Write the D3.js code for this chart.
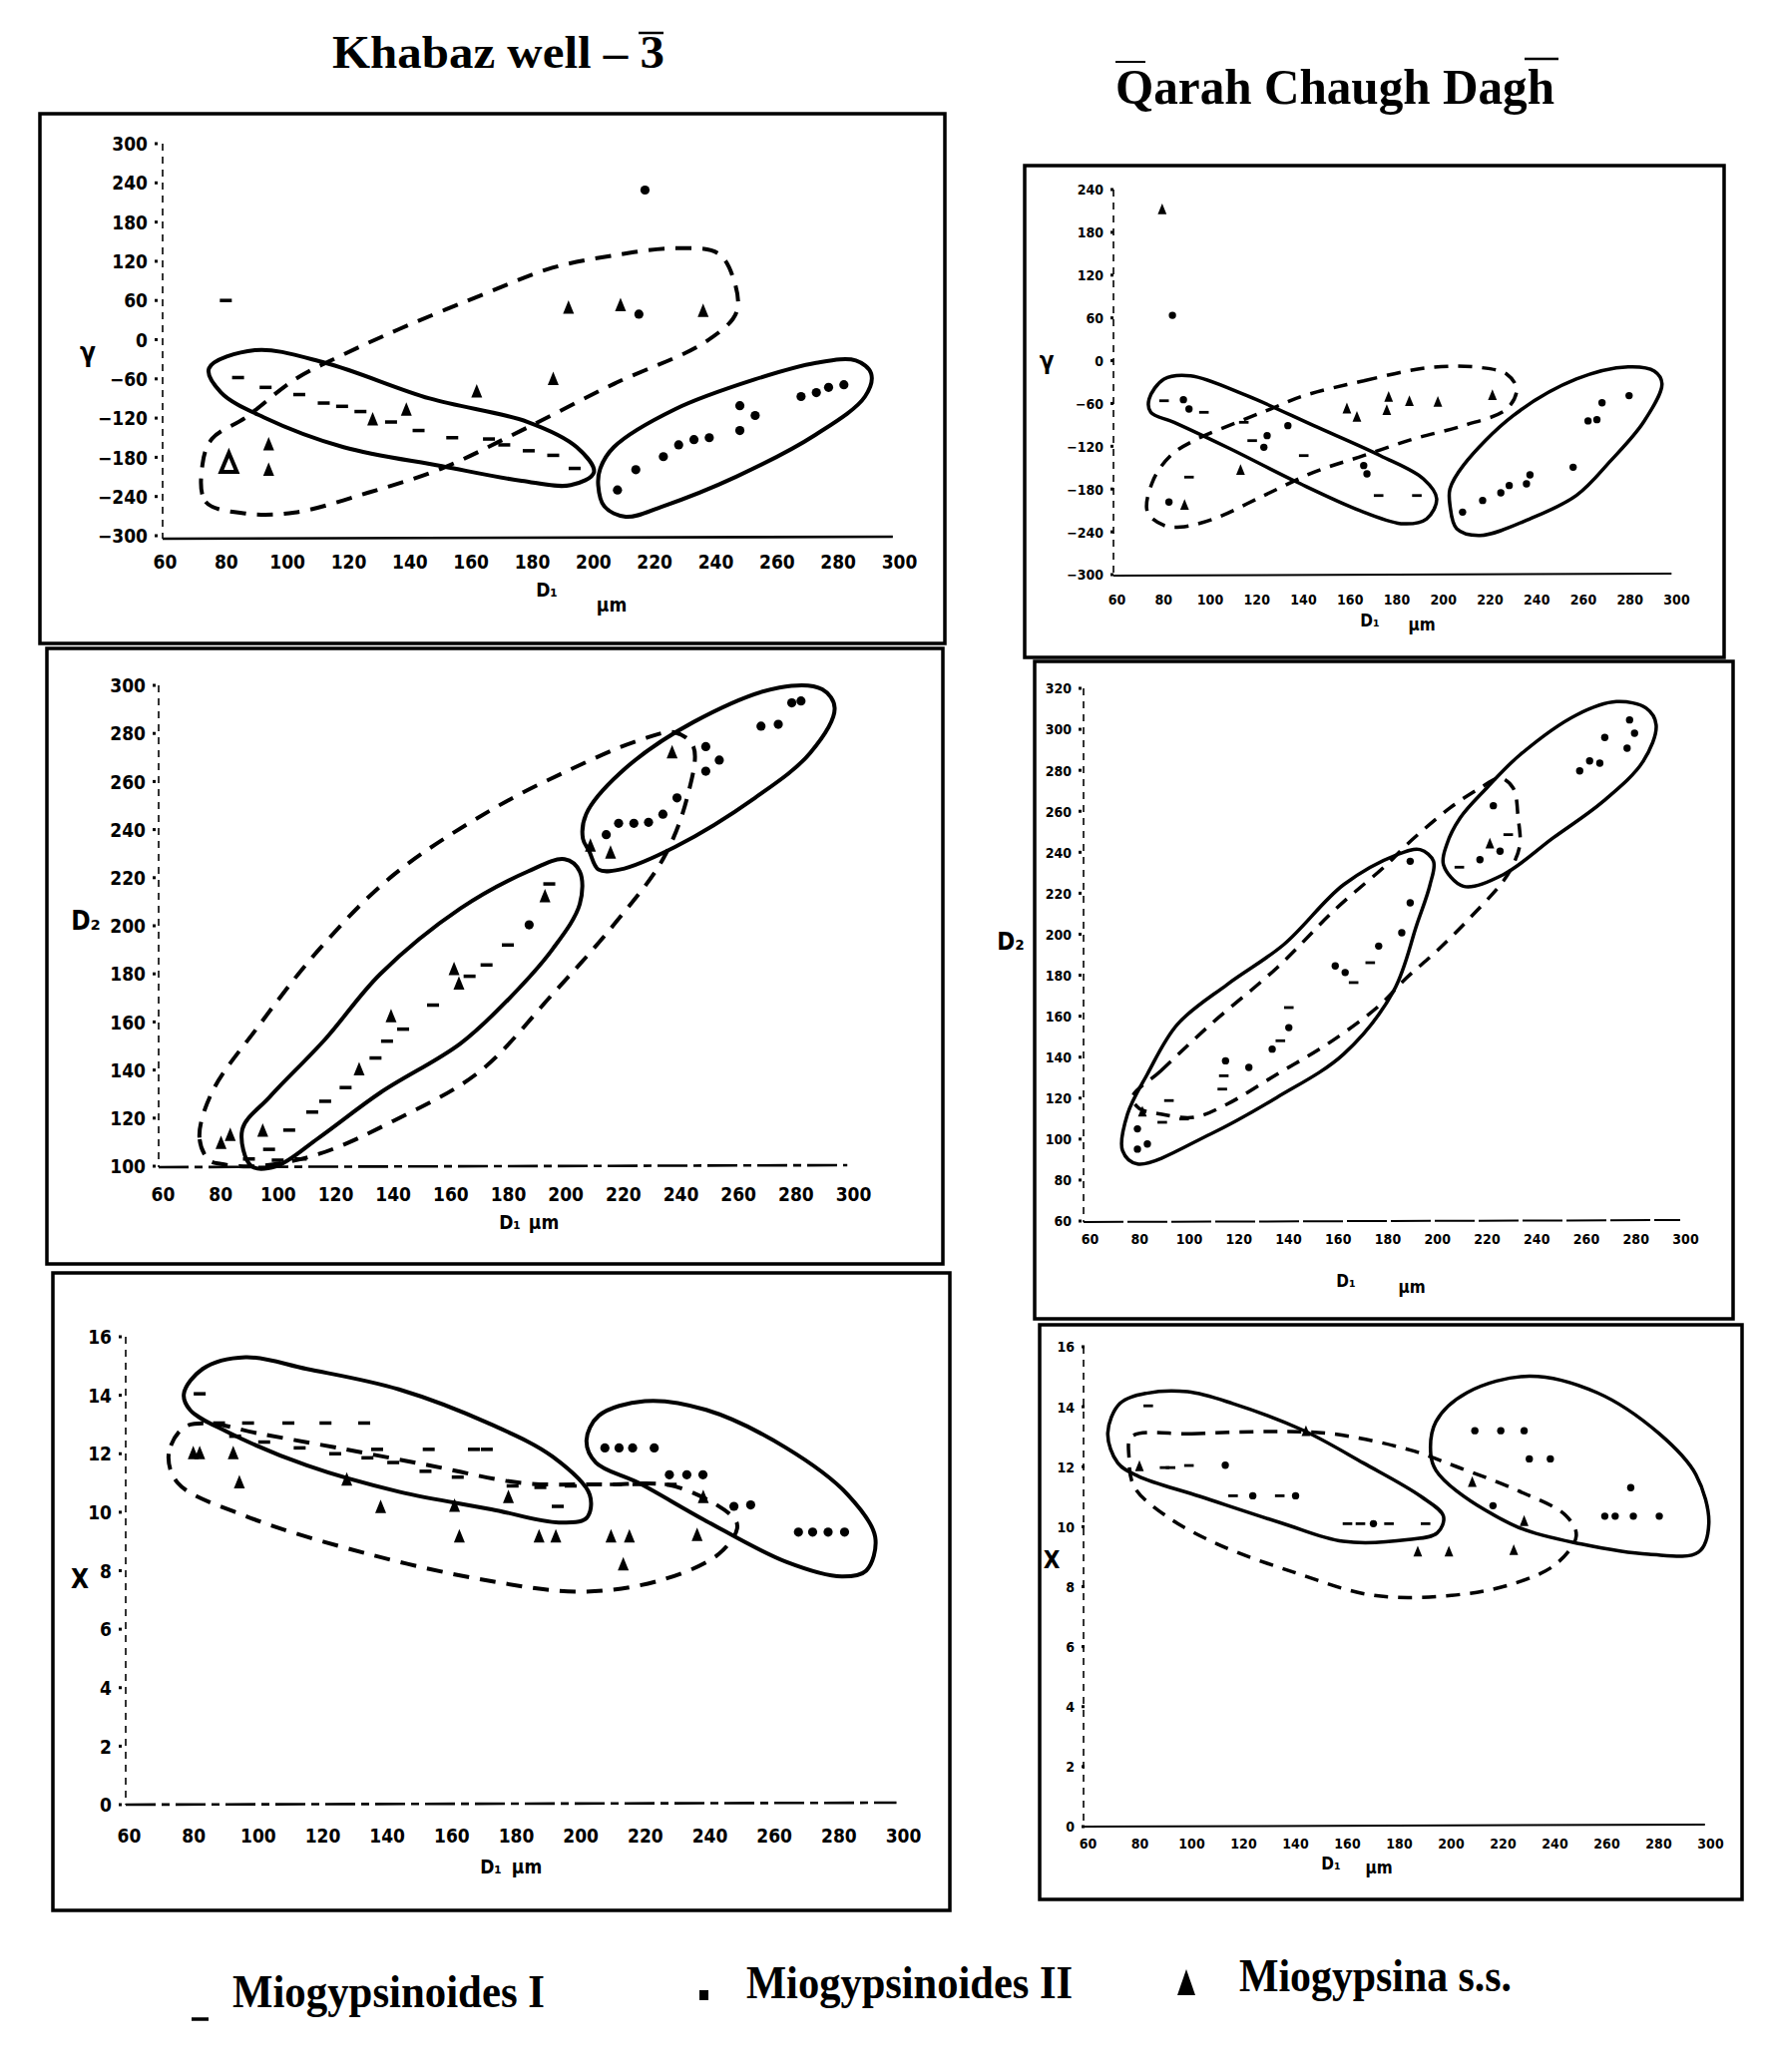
<!DOCTYPE html>
<html>
<head>
<meta charset="utf-8">
<script src="https://cdnjs.cloudflare.com/ajax/libs/d3/7.8.5/d3.min.js"></script>
<style>
  body { margin: 0; background: #fff; }
  svg { display: block; }
</style>
</head>
<body>
<script>
// ---- ticks ----
var d1Ticks       = [60, 80, 100, 120, 140, 160, 180, 200, 220, 240, 260, 280, 300];
var gammaTicksK   = [-300, -240, -180, -120, -60, 0, 60, 120, 180, 240, 300];
var gammaTicksQ   = [-300, -240, -180, -120, -60, 0, 60, 120, 180, 240];
var d2TicksK      = [100, 120, 140, 160, 180, 200, 220, 240, 260, 280, 300];
var d2TicksQ      = [60, 80, 100, 120, 140, 160, 180, 200, 220, 240, 260, 280, 300, 320];
var xTicksBoth    = [0, 2, 4, 6, 8, 10, 12, 14, 16];

// ---- Khabaz well-3 : gamma vs D1 ----
var kgMI  = [[80,60],[84,-58],[93,-73],[104,-84],[112,-97],[118,-102],[124,-110],[134,-126],[143,-139],[154,-150],[166,-152],[171,-161],[179,-170],[187,-177],[194,-197]];
var kgMII = [[217,229],[215,39],[208,-230],[214,-199],[223,-179],[228,-161],[233,-153],[238,-150],[248,-101],[253,-116],[248,-139],[268,-87],[273,-81],[277,-73],[282,-69]];
var kgMss = [[192,48],[209,52],[236,43],[187,-61],[162,-80],[139,-108],[128,-123],[94,-161],[94,-200]];
var kgOpen = [[81,-190]];
var kgEnvI  = [[74.5,-44],[89.5,-16],[112.5,-35.5],[146.6,-90],[178.7,-126],[194.7,-164.5],[200.3,-203],[192.7,-222.6],[176.7,-216],[150.6,-193.5],[118.5,-164.5],[92.5,-119],[78.4,-80.6]];
var kgEnvSS = [[72.4,-190],[73.4,-248],[86.5,-266],[102.5,-264.5],[126.6,-234],[150.6,-197],[176.7,-138.7],[206.8,-67.7],[236.9,-3],[246.9,42],[245.9,93.5],[240.9,132],[226.8,140],[206.8,129],[186.7,110],[166.6,74],[136.6,16],[118.5,-22.6],[102.5,-61],[86.5,-119],[75.5,-151.6]];
var kgEnvII = [[201.7,-222.6],[203.7,-255],[210.7,-271],[222.8,-255],[246.8,-209.7],[272.9,-145],[288.9,-87],[290.9,-51.6],[285.9,-32],[272.9,-35.5],[252.8,-61],[226.8,-106.5],[206.8,-164.5],[202.4,-196.8]];

// ---- Khabaz well-3 : D2 vs D1 ----
var kdMI  = [[97,107],[90,103],[100,102.5],[108,103],[104,115],[112,122.5],[116.5,127],[123.6,132.7],[134,145],[138,152],[143.6,157],[154,167],[166.7,179],[172.6,183.7],[180,192],[194.4,217.4]];
var kdMII = [[187.4,200.4],[214.2,237.9],[218.5,242.6],[223.8,242.6],[228.9,243],[233.9,246.4],[238.8,253.2],[248.8,274.5],[253.5,268.9],[248.8,264.3],[268,283],[274,283.8],[278.7,292.7],[281.9,293.5]];
var kdMss = [[80.3,109.4],[83.5,112.8],[94.8,114.5],[128.3,140],[139.4,162.1],[161.3,181.7],[163,175.7],[192.9,212],[208.7,233.1],[215.7,230.2],[237.1,271.9]];
var kdEnvI  = [[90.9,100],[87.7,115.3],[97.3,128.9],[116.5,152.8],[135.7,180],[163.5,207.2],[187,222.6],[199.7,227.7],[205,222.6],[205,209],[195.5,190.2],[180.5,169.8],[163.5,151],[135.7,130.6],[114.4,111.9],[99.5,100]];
var kdEnvII = [[208.3,231],[211.5,223.4],[218.9,223.4],[238.1,232.8],[265.9,253.2],[285.1,271.9],[293.6,290.6],[289.3,298.3],[274.4,299.1],[244.5,284.7],[218.9,263.4],[207.2,246.4],[206.1,236.2]];
var kdEnvSS = [[76,102.6],[72.8,111.9],[77.1,130.6],[93.1,157.9],[114.4,190.2],[140,220.9],[174.1,248.1],[201.9,265.1],[225.3,277],[238.1,280.4],[244.5,274.5],[242.3,253.2],[233.9,227.7],[216.8,200.4],[195.5,171.5],[169.9,139.1],[140,118.7],[114.4,105.1],[93.1,100],[80.3,100.9]];

// ---- Khabaz well-3 : X vs D1 ----
var kxMI  = [[82,14.05],[88,13.05],[97,13.05],[109.5,13.05],[121,13.05],[133,13.05],[93,12.6],[102,12.4],[113,12.2],[124,12.0],[134,11.86],[137,12.15],[142,11.7],[153,12.15],[152,11.4],[162,11.2],[167,12.15],[171,12.15],[179,10.9],[187.6,10.85],[197,10.9],[193,10.2],[211,10.95],[218,10.95],[228,10.95]];
var kxMII = [[207.6,12.2],[212,12.2],[216.2,12.2],[222.9,12.2],[227.6,11.28],[233,11.28],[238,11.28],[247.6,10.2],[252.8,10.25],[267.6,9.32],[272,9.32],[276.8,9.32],[281.9,9.32]];
var kxMss = [[80,12],[82,12],[92.4,12],[94.3,11],[127.6,11.1],[138.1,10.16],[161,10.2],[162.5,9.15],[177.7,10.5],[187.2,9.15],[192.4,9.15],[209.5,9.15],[215.2,9.15],[213.3,8.2],[236.2,9.2],[238.1,10.5]];
var kxEnvI  = [[77.1,14.05],[82.9,14.9],[96.2,15.3],[115.2,14.9],[143.8,14.2],[172.4,13.0],[191.4,11.9],[202.9,10.6],[201.9,9.8],[193.3,9.65],[172.4,10.1],[143.8,10.7],[115.2,11.6],[90.5,12.75],[79,13.5]];
var kxEnvII = [[201.9,12.46],[205.7,13.3],[220,13.8],[239,13.5],[263.8,12.2],[282.9,10.6],[291.4,9.15],[288.6,8.0],[281,7.8],[263.8,8.3],[239,9.7],[218.1,11.0],[204.8,11.7]];
var kxEnvSS = [[77.1,12.9],[72.4,12.0],[75.2,11.0],[96.2,9.87],[134.3,8.57],[172.4,7.64],[201,7.28],[225.7,7.7],[242.9,8.57],[248.6,9.44],[247.6,9.8],[229.5,10.88],[206.7,10.95],[181.9,11.0],[153.3,11.6],[124.8,12.2],[100,12.7],[84.8,13.04]];

// ---- Qarah Chaugh Dagh : gamma vs D1 ----
var qgMI  = [[80.4,-56.2],[97.5,-72.4],[114.6,-86.4],[118.2,-112.1],[140.3,-133.1],[172.4,-189.1],[188.8,-189.1],[91.1,-163.3]];
var qgMII = [[84,63.6],[88.7,-54.7],[91.1,-67.8],[124.6,-105.1],[133.5,-91.1],[123.2,-121.4],[166,-147],[167.4,-158.7],[82.5,-198.3],[208.4,-212.3],[217,-196],[224.8,-185.3],[228.4,-175],[235.8,-172.7],[237.3,-160.1],[255.8,-149.4],[262.2,-84.4],[266,-82.7],[268.2,-59],[279.8,-49]];
var qgMss = [[79.6,211.6],[113.2,-154.1],[89.2,-203],[158.8,-67.8],[163.1,-79.4],[176.7,-51.4],[175.9,-70.1],[185.6,-57.5],[197.8,-58.4],[221.2,-49.2]];
var qgEnvI  = [[74,-53.8],[80.4,-25.8],[91.8,-21.2],[116,-49.2],[144.6,-91.1],[173.1,-133.1],[191.6,-165.7],[197.3,-193.7],[193,-221.7],[183.1,-228.7],[166,-212.3],[137.4,-170.3],[108.9,-123.7],[84.7,-86.4],[74.7,-72.4]];
var qgEnvSS = [[140.3,-49.2],[166,-28.2],[194.5,-9.5],[215.8,-9.5],[227.3,-18.8],[231.6,-39.8],[227.3,-67.8],[208.7,-91.1],[187.4,-109.7],[166,-133.1],[144.6,-156.4],[123.2,-189.1],[101.8,-221.7],[87.5,-233.3],[80.4,-231],[73.3,-212.3],[75.4,-170.3],[83.2,-133.1],[94.7,-109.7],[111.8,-86.4],[126,-67.8]];
var qgEnvII = [[203,-203],[205.9,-235.6],[215.9,-245],[237.3,-221.7],[257.2,-189],[272,-140],[286.1,-85.6],[293.9,-32.3],[290.6,-14.6],[279.4,-8.7],[257.2,-25.8],[230.1,-77.1],[208.7,-147],[203,-179.7]];

// ---- Qarah Chaugh Dagh : D2 vs D1 ----
var qdMI  = [[92,118.8],[98.1,109.8],[89.3,108.2],[114.1,130.9],[113.5,124.4],[136.9,148],[173.1,186.1],[166.4,176.4],[140.3,164.2],[228.7,248.6],[209,232.7]];
var qdMII = [[79.3,105],[83.3,97.6],[79.3,95.1],[124.2,135],[114.8,138.2],[133.6,143.9],[140.3,154.4],[159,184.5],[163,181.3],[176.5,194.2],[185.8,200.7],[189.2,215.3],[189.2,235.6],[222.7,262.7],[225.4,240.5],[217.3,236.4],[277.6,304.6],[279.6,298.1],[267.6,296],[276.6,290.8],[257.5,279.7],[261.5,284.6],[265.6,283.5]];
var qdMss = [[81.3,113.1],[221.3,244]];
var qdEnvI  = [[73.3,94.4],[79.3,87.9],[108.8,102.5],[135.6,120.4],[162.4,141.5],[182.5,172.3],[191.9,204.8],[197.2,224.2],[198.6,235.6],[193.2,241.3],[183.8,238.8],[162.4,224.2],[138.3,195],[115.5,175.5],[95.4,156],[83.3,131.7],[75.3,112.2]];
var qdEnvSS = [[77.3,120.4],[88.7,133.3],[108.8,156],[135.6,183.7],[159.7,212.9],[179.8,234],[187.8,243.7],[205.2,261.6],[217.3,271.3],[225.4,276.2],[230.7,271.3],[232.7,256.7],[233.4,243.7],[230.7,234],[226.7,225.9],[213.3,208],[199.9,191.8],[187.8,178.8],[175.8,164.2],[155.7,146.3],[135.6,131.7],[115.5,117.1],[102.1,110.6],[88.7,112.2],[80,115]];
var qdEnvII = [[202.6,234],[210.6,223.4],[226.7,229.1],[246.8,247],[266.9,264.8],[283,284.3],[288.3,302.1],[284.3,310.3],[272.3,313.5],[256.2,307],[233.4,287.5],[220,271.3],[209.3,256.7],[203.9,243.7]];

// ---- Qarah Chaugh Dagh : X vs D1 ----
var qxMI  = [[83.4,14.03],[89.7,11.97],[92,11.97],[99.1,12.04],[116.1,11.03],[134.1,11.03],[160.2,10.1],[165.2,10.1],[176.2,10.1],[190.3,10.1]];
var qxMII = [[113.1,12.05],[123.7,11.03],[140.2,11.03],[170.2,10.1],[209.3,13.2],[219.3,13.2],[228.3,13.2],[230.3,12.26],[238.4,12.26],[269.4,11.3],[259.4,10.35],[263.4,10.35],[270.4,10.35],[280.4,10.35],[216.3,10.7]];
var qxMss = [[80,12],[144.2,13.17],[208.3,11.47],[228.3,10.17],[187.3,9.15],[199.3,9.15],[224.3,9.2]];
var qxEnvI  = [[67.8,13.12],[72.5,14.11],[82.8,14.45],[98.6,14.5],[115.9,14.11],[142.7,13.23],[166.4,12.12],[188.5,11.01],[197.2,10.35],[194.8,9.79],[183.8,9.57],[158.5,9.51],[134.8,10.12],[103.3,11.01],[79.6,11.68],[71.7,12.12]];
var qxEnvII = [[192.3,12.42],[194.3,13.5],[206.3,14.47],[230.3,15.02],[256.4,14.47],[280.4,13.1],[294.5,11.74],[299.5,10.1],[295.5,9.15],[276.4,9.08],[250.4,9.42],[226.3,9.97],[202.3,11.19],[194.3,11.88]];
var qxEnvSS = [[77,13.0],[100.1,13.1],[130.1,13.17],[154.2,13.1],[184.2,12.56],[202.3,12.0],[226.3,11.19],[244.4,10.37],[248.4,9.69],[240.4,8.74],[222.3,8.05],[200.3,7.71],[170.2,7.71],[140.2,8.46],[110.1,9.42],[90.1,10.37],[78,11.33],[76,12.29]];

// ---- legend / titles ----
var seriesNames = ['Miogypsinoides I', 'Miogypsinoides II', 'Miogypsina s.s.'];

var svg = d3.select('body').append('svg')
    .attr('width', 1770)
    .attr('height', 2077);

var tickFont = '"Liberation Sans Narrow", "DejaVu Sans Condensed", Arial, sans-serif';
var serif    = '"Liberation Serif", "DejaVu Serif", serif';

// layout per panel (positions only)
var panels = [
    { box: [40, 114, 947, 645], xr: [165, 901], yd: [-300, 300], yr: [537, 144], yTicks: gammaTicksK,
      yAxisX: 163, xAxisY: 540, xLabY: 563, yLabX: 148, fs: 19, big: true, xDash: null,
      yTitle: 'γ', yTitlePos: [88, 362], xTitlePos: [548, 598], umPos: [613, 613],
      mi: kgMI, mii: kgMII, mss: kgMss, open: kgOpen,
      env: [[kgEnvI, false], [kgEnvSS, true], [kgEnvII, false]] },
    { box: [47, 650, 945, 1267], xr: [163, 855], yd: [100, 300], yr: [1169, 687], yTicks: d2TicksK,
      yAxisX: 159, xAxisY: 1170, xLabY: 1197, yLabX: 146, fs: 19, big: true, xDash: '30,6,8,6',
      yTitle: 'D₂', yTitlePos: [86, 932], xTitlePos: [511, 1232], umPos: [545, 1232],
      mi: kdMI, mii: kdMII, mss: kdMss, open: [],
      env: [[kdEnvI, false], [kdEnvII, false], [kdEnvSS, true]] },
    { box: [53, 1276, 952, 1915], xr: [129, 905], yd: [0, 16], yr: [1809, 1340], yTicks: xTicksBoth,
      yAxisX: 126, xAxisY: 1809, xLabY: 1840, yLabX: 112, fs: 19, big: true, xDash: '30,6,8,6',
      yTitle: 'X', yTitlePos: [80, 1592], xTitlePos: [492, 1878], umPos: [528, 1878],
      mi: kxMI, mii: kxMII, mss: kxMss, open: [],
      env: [[kxEnvI, false], [kxEnvII, false], [kxEnvSS, true]] },
    { box: [1027, 166, 1728, 659], xr: [1119, 1680], yd: [-300, 240], yr: [576, 190], yTicks: gammaTicksQ,
      yAxisX: 1116, xAxisY: 577, xLabY: 601, yLabX: 1106, fs: 14, big: false, xDash: null,
      yTitle: 'γ', yTitlePos: [1049, 370], xTitlePos: [1373, 628], umPos: [1425, 632],
      mi: qgMI, mii: qgMII, mss: qgMss, open: [],
      env: [[qgEnvI, false], [qgEnvSS, true], [qgEnvII, false]] },
    { box: [1037, 663, 1737, 1322], xr: [1092, 1689], yd: [60, 320], yr: [1224, 690], yTicks: d2TicksQ,
      yAxisX: 1086, xAxisY: 1225, xLabY: 1242, yLabX: 1074, fs: 14, big: false, xDash: '40,4',
      yTitle: 'D₂', yTitlePos: [1013, 952], xTitlePos: [1349, 1290], umPos: [1415, 1296],
      mi: qdMI, mii: qdMII, mss: qdMss, open: [],
      env: [[qdEnvI, false], [qdEnvSS, true], [qdEnvII, false]] },
    { box: [1042, 1328, 1746, 1904], xr: [1090, 1714], yd: [0, 16], yr: [1831, 1350], yTicks: xTicksBoth,
      yAxisX: 1086, xAxisY: 1831, xLabY: 1848, yLabX: 1077, fs: 14, big: false, xDash: null,
      yTitle: 'X', yTitlePos: [1054, 1572], xTitlePos: [1334, 1874], umPos: [1382, 1878],
      mi: qxMI, mii: qxMII, mss: qxMss, open: [],
      env: [[qxEnvI, false], [qxEnvII, false], [qxEnvSS, true]] }
];

function drawPanel(p) {
    var g = svg.append('g');
    var x = d3.scaleLinear().domain([60, 300]).range(p.xr);
    var y = d3.scaleLinear().domain(p.yd).range(p.yr);

    // frame
    g.append('rect')
        .attr('x', p.box[0]).attr('y', p.box[1])
        .attr('width', p.box[2] - p.box[0]).attr('height', p.box[3] - p.box[1])
        .attr('fill', 'none').attr('stroke', '#000').attr('stroke-width', 3.5);

    // axis lines (drawn by hand, the scan has them broken)
    g.append('line')
        .attr('x1', p.yAxisX).attr('x2', p.yAxisX)
        .attr('y1', y(p.yd[1])).attr('y2', p.xAxisY)
        .attr('stroke', '#000').attr('stroke-width', 1.6)
        .attr('stroke-dasharray', '7,6');
    g.append('line')
        .attr('x1', p.yAxisX).attr('x2', x(298))
        .attr('y1', p.xAxisY).attr('y2', p.xAxisY - 2)
        .attr('stroke', '#000').attr('stroke-width', p.big ? 2.6 : 2)
        .attr('stroke-dasharray', p.xDash);

    // tick labels
    var xa = g.append('g')
        .attr('transform', 'translate(0,' + p.xLabY + ')')
        .call(d3.axisBottom(x).tickValues(d1Ticks).tickSize(0).tickPadding(0));
    var ya = g.append('g')
        .attr('transform', 'translate(' + p.yLabX + ',0)')
        .call(d3.axisLeft(y).tickValues(p.yTicks).tickSize(0).tickPadding(0).tickFormat(d3.format('d')));
    [xa, ya].forEach(a => {
        a.select('.domain').remove();
        a.selectAll('text')
            .attr('dy', '0.35em')
            .attr('y', 0)
            .style('font-family', tickFont)
            .style('font-weight', 'bold')
            .style('font-size', p.fs + 'px')
            .attr('fill', '#000');
    });
    ya.selectAll('text').attr('x', 0);

    // tick dots beside the y labels
    g.selectAll(null).data(p.yTicks).enter().append('rect')
        .attr('x', p.yLabX + 7).attr('y', d => y(d) - 1.5)
        .attr('width', 3).attr('height', 3).attr('fill', '#000');

    // axis titles
    g.append('text')
        .attr('x', p.yTitlePos[0]).attr('y', p.yTitlePos[1])
        .attr('text-anchor', 'middle')
        .style('font-family', tickFont).style('font-weight', 'bold')
        .style('font-size', (p.big ? 26 : 24) + 'px')
        .text(p.yTitle);
    g.append('text')
        .attr('x', p.xTitlePos[0]).attr('y', p.xTitlePos[1])
        .attr('text-anchor', 'middle')
        .style('font-family', tickFont).style('font-weight', 'bold')
        .style('font-size', (p.big ? 19 : 17) + 'px')
        .text('D₁');
    g.append('text')
        .attr('x', p.umPos[0]).attr('y', p.umPos[1])
        .attr('text-anchor', 'middle')
        .style('font-family', tickFont).style('font-weight', 'bold')
        .style('font-size', (p.big ? 19 : 17) + 'px')
        .text('µm');

    // envelopes
    var outline = d3.line()
        .x(d => x(d[0])).y(d => y(d[1]))
        .curve(d3.curveCatmullRomClosed.alpha(0.5));
    p.env.forEach(e => {
        g.append('path')
            .attr('d', outline(e[0]))
            .attr('fill', 'none')
            .attr('stroke', '#000')
            .attr('stroke-width', p.big ? 4 : 3.5)
            .attr('stroke-dasharray', e[1] ? (p.big ? '16,11' : '14,10') : null);
    });

    // symbols
    var s = p.big ? 1 : 0.8;
    g.selectAll(null).data(p.mi).enter().append('line')
        .attr('x1', d => x(d[0]) - 6 * s).attr('x2', d => x(d[0]) + 6 * s)
        .attr('y1', d => y(d[1])).attr('y2', d => y(d[1]))
        .attr('stroke', '#000').attr('stroke-width', 3.5 * s);
    g.selectAll(null).data(p.mii).enter().append('circle')
        .attr('cx', d => x(d[0])).attr('cy', d => y(d[1]))
        .attr('r', 4.6 * s).attr('fill', '#000');
    g.selectAll(null).data(p.mss).enter().append('path')
        .attr('transform', d => 'translate(' + x(d[0]) + ',' + y(d[1]) + ') scale(' + s + ')')
        .attr('d', 'M0,-8L5.5,5.5L-5.5,5.5Z')
        .attr('fill', '#000');
    g.selectAll(null).data(p.open).enter().append('path')
        .attr('transform', d => 'translate(' + x(d[0]) + ',' + y(d[1]) + ')')
        .attr('d', 'M0,-11L8,8L-8,8Z')
        .attr('fill', 'none').attr('stroke', '#000').attr('stroke-width', 4);
}

panels.forEach(drawPanel);

// ---- titles ----
svg.append('text')
    .attr('x', 333).attr('y', 68)
    .attr('textLength', 333).attr('lengthAdjust', 'spacingAndGlyphs')
    .style('font-family', serif).style('font-weight', 'bold').style('font-size', '47px')
    .text('Khabaz well – 3');
svg.append('line').attr('x1', 640).attr('x2', 665).attr('y1', 33).attr('y2', 33)
    .attr('stroke', '#000').attr('stroke-width', 2.5);

svg.append('text')
    .attr('x', 1118).attr('y', 104)
    .attr('textLength', 440).attr('lengthAdjust', 'spacingAndGlyphs')
    .style('font-family', serif).style('font-weight', 'bold').style('font-size', '50px')
    .text('Qarah Chaugh Dagh');
svg.append('line').attr('x1', 1118).attr('x2', 1148).attr('y1', 62).attr('y2', 62)
    .attr('stroke', '#000').attr('stroke-width', 2);
svg.append('line').attr('x1', 1528).attr('x2', 1562).attr('y1', 59).attr('y2', 59)
    .attr('stroke', '#000').attr('stroke-width', 2.5);

// ---- legend ----
var legendPos = [[233, 2012, 313], [748, 2003, 327], [1242, 1996, 273]];
seriesNames.forEach((name, i) => {
    svg.append('text')
        .attr('x', legendPos[i][0]).attr('y', legendPos[i][1])
        .attr('textLength', legendPos[i][2]).attr('lengthAdjust', 'spacingAndGlyphs')
        .style('font-family', serif).style('font-weight', 'bold').style('font-size', '47px')
        .text(name);
});
svg.append('line').attr('x1', 192).attr('x2', 209).attr('y1', 2024).attr('y2', 2024)
    .attr('stroke', '#000').attr('stroke-width', 3.5);
svg.append('rect').attr('x', 701).attr('y', 1995).attr('width', 9).attr('height', 10).attr('fill', '#000');
svg.append('path').attr('d', 'M1189,1974L1198,2000L1180,2000Z').attr('fill', '#000');
</script>
</body>
</html>
